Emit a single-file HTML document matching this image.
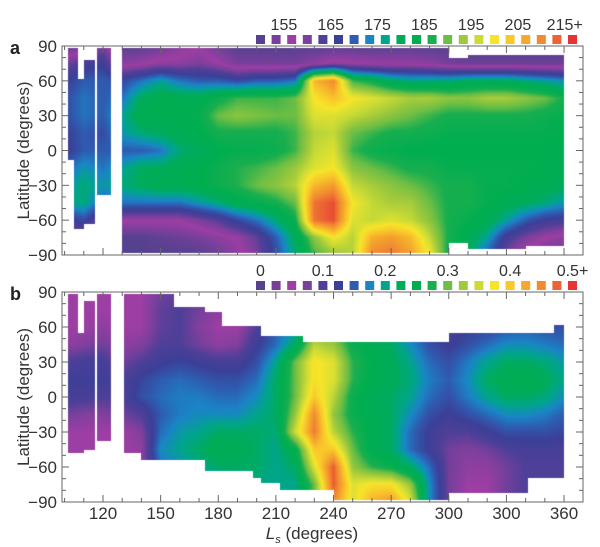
<!DOCTYPE html>
<html><head><meta charset="utf-8">
<style>
html,body{margin:0;padding:0;background:#fff;width:600px;height:547px;overflow:hidden;font-family:"Liberation Sans",sans-serif;}
#wrap{position:relative;width:600px;height:547px;}
canvas{position:absolute;}
svg{position:absolute;left:0;top:0;}
</style></head>
<body>
<div id="wrap">
<canvas id="cvA" width="521" height="209" style="left:62px;top:46px"></canvas>
<canvas id="cvB" width="521" height="210" style="left:62px;top:292px"></canvas>
<svg id="ov" width="600" height="547"></svg>
</div>
<script>
// ---- data ----
const lsCols = [100,110,120,130,140,150,160,170,180,190,200,210,220,230,240,250,260,270,280,290,300,310,320,330,340,350,360];
const latRows = [90,75,60,45,30,15,0,-15,-30,-45,-60,-75,-90];
const tempGrid = [
[150,160,166,168,168,166,165,170,174,176,165,158,150],
[152,165,170,172,172,170,170,175,178,178,168,160,150],
[160,166,170,170,170,168,170,172,175,170,160,155,150],
[150,155,168,172,176,175,170,176,178,172,157,150,150],
[150,156,172,180,183,178,170,180,180,172,157,150,150],
[152,158,176,183,183,180,172,180,182,172,157,151,150],
[155,158,172,182,183,182,178,182,182,172,157,152,150],
[156,160,170,182,184,183,180,183,183,175,160,153,150],
[152,157,170,185,190,186,183,185,185,178,163,155,152],
[150,153,168,188,192,186,184,187,187,182,168,157,155],
[150,153,170,188,191,186,184,188,190,184,172,162,160],
[150,153,170,188,190,186,185,190,192,186,178,170,168],
[150,153,172,190,190,188,188,193,195,190,185,180,178],
[150,155,205,200,198,195,196,198,205,212,212,192,188],
[150,158,210,204,198,196,198,200,208,215,215,200,192],
[150,157,188,200,196,190,188,192,196,200,198,195,195],
[150,156,185,198,194,188,185,190,194,196,196,206,210],
[150,156,180,196,192,186,184,188,192,194,198,208,212],
[150,156,178,194,190,186,183,186,190,194,196,205,208],
[150,155,178,194,188,185,183,186,188,190,192,196,200],
[150,153,178,192,186,184,183,184,186,186,186,186,185],
[150,152,180,192,186,184,183,184,186,186,184,182,180],
[150,152,180,194,186,184,183,184,184,184,182,176,170],
[150,152,180,194,186,184,183,184,184,182,176,165,160],
[150,152,178,192,186,184,183,184,183,180,170,160,155],
[150,152,176,190,185,184,183,183,182,178,166,157,152],
[150,152,174,186,184,183,182,182,180,175,165,155,152]];
const opacityGrid = [
[.05,.05,.05,.06,.10,.12,.11,.08,.05,.05,.05,.05,.05],
[.05,.05,.05,.07,.11,.12,.11,.07,.05,.05,.05,.05,.05],
[.05,.05,.06,.08,.11,.12,.10,.07,.05,.05,.05,.05,.05],
[.05,.05,.05,.06,.08,.10,.10,.08,.05,.05,.05,.05,.05],
[.05,.05,.05,.07,.10,.13,.14,.10,.07,.06,.06,.05,.05],
[.08,.09,.09,.10,.12,.15,.16,.15,.16,.18,.16,.10,.10],
[.09,.10,.10,.10,.13,.16,.17,.17,.19,.20,.18,.12,.12],
[.08,.08,.07,.08,.12,.15,.17,.18,.20,.22,.20,.15,.15],
[.06,.06,.05,.06,.11,.14,.16,.18,.22,.24,.22,.18,.18],
[.06,.06,.05,.07,.11,.14,.16,.18,.22,.23,.22,.20,.20],
[.10,.10,.10,.12,.14,.16,.18,.20,.22,.22,.22,.20,.20],
[.15,.15,.15,.16,.20,.22,.22,.22,.21,.20,.20,.20,.20],
[.18,.18,.18,.22,.30,.30,.30,.32,.35,.25,.22,.20,.20],
[.25,.25,.28,.34,.38,.38,.40,.45,.46,.40,.36,.30,.30],
[.30,.30,.30,.32,.36,.36,.34,.32,.34,.40,.48,.48,.45],
[.25,.25,.25,.26,.28,.28,.26,.26,.28,.30,.32,.36,.36],
[.25,.25,.22,.24,.25,.24,.23,.24,.24,.24,.28,.38,.42],
[.22,.22,.20,.22,.23,.23,.22,.22,.22,.22,.26,.38,.44],
[.18,.18,.16,.18,.20,.21,.20,.18,.16,.16,.22,.32,.36],
[.14,.14,.13,.14,.16,.17,.16,.14,.12,.12,.16,.18,.18],
[.12,.12,.11,.12,.14,.15,.14,.12,.10,.08,.08,.08,.08],
[.12,.12,.12,.14,.17,.18,.17,.14,.10,.07,.06,.05,.05],
[.13,.13,.13,.16,.20,.22,.20,.16,.12,.08,.06,.05,.05],
[.14,.14,.14,.18,.22,.24,.22,.18,.14,.10,.08,.08,.08],
[.14,.14,.15,.18,.22,.25,.22,.18,.14,.11,.10,.10,.10],
[.13,.13,.14,.17,.21,.23,.21,.17,.14,.11,.10,.10,.10],
[.12,.12,.14,.16,.19,.20,.18,.15,.13,.11,.10,.10,.10]];
// coverage: [Ls start, Ls end, top latitude, bottom latitude]
const coverageA = [[102,105,88,-8],[105,107,88,-68],[107,110,62,-68],[110,116,78,-63],[117,124,88,-38],[130,300,88,-88],[300,310,80,-80],[310,340,82,-85],[340,360,82,-82]];
const coverageB = [[102,107,88,-48],[107,110,55,-48],[110,116,82,-45],[117,124,88,-38],[131,140,88,-48],[140,157,88,-54],[157,173,77,-54],[173,182,73,-63],[182,198,61,-63],[198,202,61,-69],[202,212,52,-74],[212,224,52,-80],[224,240,47,-80],[240,300,47,-88],[300,341,55,-82],[341,355,55,-69],[355,360,62,-69]];
const xTickValues = [120,150,180,210,240,270,300,330,360];
const xTickLabels = ["120","150","180","210","240","270","300","300","360"];
const yTickValues = [90,60,30,0,-30,-60,-90];
const yTickLabels = ["90","60","30","0","\u221230","\u221260","\u221290"];
const cbarALabels = ["155","165","175","185","195","205","215+"];
const cbarBLabels = ["0","0.1","0.2","0.3","0.4","0.5+"];
const palette = ["#56418f","#7a3f9c","#9c3ea3","#7b3f9c","#4e3f98","#3c3f97","#2f5bb0","#1a85c6","#00a58c","#00ac5a","#00ae50","#19ae4f","#6cbe45","#9fc93c","#cddc35","#f6e52a","#f9c82b","#f5a82c","#f18a31","#ec6334","#e63434"];

// ---- scales ----
const X0=62, X1=583;
function xOf(L){return 103+(L-120)*1.921;}
function LOf(x){return 120+(x-103)/1.921;}
function yOf(lat,top,bot){return top+(90-lat)*(bot-top)/180;}
const pal = palette.map(h=>[parseInt(h.slice(1,3),16),parseInt(h.slice(3,5),16),parseInt(h.slice(5,7),16)]);
function colorAt(idx){
  idx=Math.max(0,Math.min(20,idx));const i=Math.floor(idx),f=idx-i,j=Math.min(20,i+1);
  return [0,1,2].map(k=>pal[i][k]*(1-f)+pal[j][k]*f);
}
function sample(grid,L,lat){
  let cx=(L-lsCols[0])/10; cx=Math.max(0,Math.min(lsCols.length-1.0001,cx));
  let ry=(90-lat)/15; ry=Math.max(0,Math.min(latRows.length-1.0001,ry));
  const i=Math.floor(cx),j=Math.floor(ry),fx=cx-i,fy=ry-j;
  const a=grid[i][j],b=grid[i+1][j],c=grid[i][j+1],d=grid[i+1][j+1];
  return (a*(1-fx)+b*fx)*(1-fy)+(c*(1-fx)+d*fx)*fy;
}
function covered(cov,L,lat){
  for(const r of cov){if(L>=r[0]&&L<r[1]&&lat<=r[2]&&lat>=r[3])return true;}
  return false;
}
function drawHeat(id,grid,cov,vmin,step,top,bot){
  const cv=document.getElementById(id),ctx=cv.getContext('2d');
  const W=cv.width,H=cv.height,img=ctx.createImageData(W,H);
  for(let py=0;py<H;py++){
    const lat=90-(py+0.5)*180/H;
    for(let px=0;px<W;px++){
      const L=LOf(X0+px+0.5);const o=(py*W+px)*4;
      if(covered(cov,L,lat)){
        const c=colorAt((sample(grid,L,lat)-vmin)/step);
        img.data[o]=c[0];img.data[o+1]=c[1];img.data[o+2]=c[2];img.data[o+3]=255;
      } else {img.data[o]=255;img.data[o+1]=255;img.data[o+2]=255;img.data[o+3]=255;}
    }
  }
  ctx.putImageData(img,0,0);
}
drawHeat('cvA',tempGrid,coverageA,150,10/3,46,255);
drawHeat('cvB',opacityGrid,coverageB,0,0.025,292,502);

// ---- axes ----
const NS='http://www.w3.org/2000/svg';
const svg=document.getElementById('ov');
function mk(tag,attrs,parent){const e=document.createElementNS(NS,tag);for(const k in attrs)e.setAttribute(k,attrs[k]);(parent||svg).appendChild(e);return e;}
function panel(key,top,bot,letter,cbLabels,cbY,cbLabelY,cbStepLabel){
  const g=mk('g',{});
  
  
  const frame=mk('rect',{x:X0,y:top,width:X1-X0,height:bot-top,fill:'none',stroke:'#666','stroke-width':1},g);
  
  
  for(let L=100;L<=370;L+=10){
    const x=xOf(L);if(x<X0||x>X1)continue;const len=(L%30===0)?7:4;
    const t1=mk('line',{x1:x,x2:x,y1:bot,y2:bot-len,stroke:'#666','stroke-width':1},g);
    
    
    const t2=mk('line',{x1:x,x2:x,y1:top,y2:top+len,stroke:'#666','stroke-width':1},g);
    
    
  }
  for(let lat=-90;lat<=90;lat+=10){
    const y=yOf(lat,top,bot);const len=(lat%30===0)?7:4;
    const t1=mk('line',{x1:X0,x2:X0+len,y1:y,y2:y,stroke:'#666','stroke-width':1},g);
    
    
    const t2=mk('line',{x1:X1,x2:X1-len,y1:y,y2:y,stroke:'#666','stroke-width':1},g);
    
    
  }
  yTickValues.forEach((v,i)=>{
    const t=mk('text',{x:57,y:yOf(v,top,bot)+6,'text-anchor':'end','font-size':17,fill:'#333'},g);
    t.textContent=yTickLabels[i];
    
    
  });
  const lt=mk('text',{x:10,y:top+8,'font-size':18,'font-weight':'bold',fill:'#222'},g);
  lt.textContent=letter;
  
  
  const yt=mk('text',{x:0,y:0,'text-anchor':'middle','font-size':17,fill:'#333',transform:'translate(29,'+((top+bot)/2)+') rotate(-90)'},g);
  yt.textContent='Latitude (degrees)';
  
  
  for(let i=0;i<palette.length;i++){
    const r=mk('rect',{x:256+i*15.6,y:cbY,width:9,height:9,fill:palette[i]},g);
    
    
  }
  cbLabels.forEach((s,i)=>{
    const t=mk('text',{x:260.5+i*cbStepLabel*15.6+(key==='a'?1.5*15.6:0),y:cbLabelY,'text-anchor':'middle','font-size':16,fill:'#333'},g);
    t.textContent=s;
    
    
  });
}
panel('a',46,255,'a',cbarALabels,35,30,3);
panel('b',292,502,'b',cbarBLabels,281,276,4);
xTickValues.forEach((v,i)=>{
  const t=mk('text',{x:xOf(v),y:519,'text-anchor':'middle','font-size':17,fill:'#333'});
  t.textContent=xTickLabels[i];
  
  
});
const xt=mk('text',{x:312,y:539,'text-anchor':'middle','font-size':17,fill:'#333'});


const ti=mk('tspan',{'font-style':'italic'},xt);ti.textContent='L';
const ts=mk('tspan',{'font-style':'italic','font-size':11,dy:4},xt);ts.textContent='s';
const tr=mk('tspan',{dy:-4},xt);tr.textContent=' (degrees)';
</script>
</body></html>
